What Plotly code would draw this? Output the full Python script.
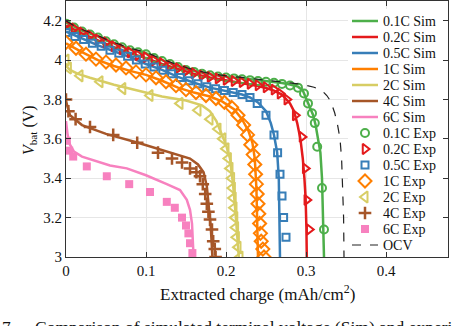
import plotly.graph_objects as go

# ---------------- data ----------------
q_ocv = [0, .01, .02, .03, .04, .05, .06, .08, .10, .12, .14, .16, .18, .20, .22, .24, .26, .28, .29, .30, .31, .32, .326, .331, .336, .3395, .3425, .3445, .346, .347, .3475]
v_ocv = [4.20, 4.175, 4.155, 4.14, 4.125, 4.105, 4.09, 4.06, 4.04, 4.005, 3.975, 3.95, 3.932, 3.92, 3.912, 3.903, 3.895, 3.885, 3.879, 3.872, 3.862, 3.845, 3.82, 3.79, 3.73, 3.67, 3.60, 3.50, 3.35, 3.2, 3.0]

q01_sim = [0, .01, .02, .03, .04, .05, .06, .07, .08, .09, .10, .11, .12, .13, .14, .15, .16, .17, .18, .19, .20, .21, .22, .23, .24, .25, .26, .27, .28, .29, .296, .301, .306, .309, .312, .315, .318, .32, .3215, .3225]
v01_sim = [4.19, 4.17, 4.15, 4.135, 4.12, 4.10, 4.085, 4.07, 4.055, 4.045, 4.035, 4.015, 4.0, 3.985, 3.97, 3.955, 3.945, 3.935, 3.928, 3.922, 3.916, 3.912, 3.908, 3.903, 3.899, 3.895, 3.89, 3.884, 3.876, 3.865, 3.845, 3.80, 3.75, 3.72, 3.67, 3.60, 3.53, 3.40, 3.20, 3.0]

q02_sim = [0, .02, .04, .06, .08, .10, .12, .14, .16, .18, .20, .22, .24, .25, .26, .27, .28, .285, .289, .293, .296, .298, .2995, .3005, .301]
v02_sim = [4.175, 4.135, 4.10, 4.065, 4.035, 4.01, 3.98, 3.955, 3.93, 3.912, 3.898, 3.885, 3.868, 3.858, 3.845, 3.825, 3.78, 3.74, 3.68, 3.60, 3.50, 3.40, 3.30, 3.15, 3.0]

q05_sim = [0, .02, .04, .06, .08, .10, .12, .14, .16, .18, .20, .22, .23, .24, .25, .256, .26, .264, .266, .267, .2675]
v05_sim = [4.145, 4.11, 4.075, 4.045, 4.015, 3.98, 3.95, 3.915, 3.885, 3.86, 3.842, 3.825, 3.81, 3.785, 3.74, 3.68, 3.62, 3.53, 3.40, 3.20, 3.0]

q1_sim = [0, .02, .04, .06, .08, .10, .12, .14, .16, .18, .195, .21, .22, .228, .233, .236, .238, .239, .24]
v1_sim = [4.085, 4.04, 4.0, 3.97, 3.945, 3.925, 3.895, 3.86, 3.835, 3.815, 3.79, 3.75, 3.70, 3.64, 3.58, 3.50, 3.35, 3.20, 3.0]

q2_sim = [0, .005, .015, .03, .06, .09, .12, .15, .17, .18, .188, .195, .20, .205, .209, .212, .214, .216]
v2_sim = [3.97, 3.95, 3.93, 3.91, 3.875, 3.845, 3.815, 3.795, 3.77, 3.74, 3.69, 3.62, 3.57, 3.50, 3.36, 3.22, 3.12, 3.0]

q4_sim = [0, .005, .02, .05, .09, .13, .155, .165, .172, .176, .179, .181, .183]
v4_sim = [3.79, 3.72, 3.67, 3.625, 3.58, 3.53, 3.50, 3.47, 3.43, 3.36, 3.25, 3.15, 3.0]

q6_sim = [0, .002, .005, .01, .02, .035, .055, .076, .10, .126, .1425, .151, .155, .1575, .159, .1595]
v6_sim = [3.69, 3.62, 3.57, 3.535, 3.51, 3.49, 3.465, 3.45, 3.415, 3.37, 3.34, 3.29, 3.24, 3.17, 3.08, 3.0]

q01_exp = [0, .01, .02, .03, .04, .05, .06, .07, .08, .09, .10, .11, .12, .13, .14, .15, .16, .17, .18, .19, .20, .21, .22, .23, .24, .25, .26, .27, .28, .29, .2975, .3025, .3075, .311, .314, .32, .3225]
v01_exp = [4.185, 4.165, 4.145, 4.13, 4.115, 4.095, 4.08, 4.065, 4.05, 4.04, 4.03, 4.01, 3.995, 3.98, 3.965, 3.95, 3.94, 3.93, 3.923, 3.917, 3.911, 3.907, 3.903, 3.898, 3.894, 3.89, 3.885, 3.879, 3.871, 3.86, 3.83, 3.78, 3.73, 3.68, 3.56, 3.35, 3.14]

q02_exp = [0, .01, .02, .03, .04, .05, .06, .07, .08, .09, .10, .11, .12, .13, .14, .15, .16, .17, .18, .19, .20, .21, .22, .23, .24, .25, .26, .2675, .276, .2865, .295, .299, .301, .304]
v02_exp = [4.18, 4.16, 4.14, 4.125, 4.105, 4.09, 4.07, 4.055, 4.04, 4.025, 4.015, 3.998, 3.985, 3.97, 3.958, 3.945, 3.933, 3.922, 3.914, 3.907, 3.90, 3.894, 3.888, 3.88, 3.872, 3.862, 3.85, 3.83, 3.80, 3.72, 3.61, 3.45, 3.29, 3.14]

q05_exp = [0, .011, .022, .033, .044, .055, .066, .077, .088, .099, .11, .121, .132, .143, .154, .165, .176, .187, .198, .209, .22, .23, .239, .25, .26, .2645, .2675, .27, .272, .275]
v05_exp = [4.14, 4.12, 4.105, 4.085, 4.07, 4.05, 4.035, 4.02, 4.0, 3.98, 3.965, 3.948, 3.93, 3.912, 3.895, 3.88, 3.865, 3.855, 3.845, 3.835, 3.825, 3.81, 3.78, 3.72, 3.62, 3.53, 3.42, 3.31, 3.20, 3.10]

q1_exp = [0, .0125, .025, .0375, .05, .0625, .075, .0875, .10, .1125, .125, .1375, .15, .1625, .175, .1875, .198, .207, .215, .222, .227, .231, .234, .236, .237, .238, .239, .240, .241, .242, .243, .244, .246, .2475]
v1_exp = [4.09, 4.06, 4.03, 4.005, 3.99, 3.975, 3.96, 3.94, 3.925, 3.91, 3.89, 3.87, 3.85, 3.835, 3.82, 3.805, 3.785, 3.76, 3.72, 3.67, 3.62, 3.57, 3.52, 3.47, 3.42, 3.37, 3.32, 3.27, 3.22, 3.17, 3.12, 3.08, 3.04, 3.0]

q2_exp = [0, .003, .0175, .0425, .071, .105, .1425, .165, .18, .19, .196, .20, .203, .205, .207, .208, .209, .21, .211, .212, .213, .215, .2175]
v2_exp = [4.0, 3.96, 3.92, 3.89, 3.855, 3.82, 3.78, 3.745, 3.70, 3.65, 3.60, 3.55, 3.50, 3.45, 3.40, 3.35, 3.30, 3.25, 3.20, 3.15, 3.10, 3.05, 3.0]

q4_exp = [0, .003, .012, .03, .059, .089, .115, .1325, .145, .155, .163, .1675, .171, .174, .176, .178, .18, .1825, .184, .186, .187]
v4_exp = [3.80, 3.74, 3.70, 3.66, 3.62, 3.58, 3.53, 3.50, 3.48, 3.45, 3.43, 3.41, 3.37, 3.32, 3.27, 3.23, 3.19, 3.14, 3.08, 3.04, 3.0]

q6_exp = [0.001, .004, .009, .026, .051, .079, .105, .126, .136, .145, .15, .153, .155, .158]
v6_exp = [3.59, 3.54, 3.51, 3.46, 3.41, 3.37, 3.33, 3.28, 3.25, 3.20, 3.16, 3.12, 3.07, 3.02]

x_ticks = [0, 0.1, 0.2, 0.3, 0.4]
y_ticks = [3, 3.2, 3.4, 3.6, 3.8, 4, 4.2]

# ---------------- styles ----------------
C_GREEN, C_RED, C_BLUE = "#4daf4a", "#e41a1c", "#377eb8"
C_ORANGE, C_YELLOW, C_BROWN, C_PINK = "#ff7f00", "#d7cd64", "#a65628", "#f781bf"
FONT = "Liberation Serif"
W, H = 474, 326
L, R, T, B = 66, 26, 1, 69
PW, PH = W - L - R, H - T - B

sims = [
    ("0.1C Sim", q01_sim, v01_sim, C_GREEN),
    ("0.2C Sim", q02_sim, v02_sim, C_RED),
    ("0.5C Sim", q05_sim, v05_sim, C_BLUE),
    ("1C Sim", q1_sim, v1_sim, C_ORANGE),
    ("2C Sim", q2_sim, v2_sim, C_YELLOW),
    ("4C Sim", q4_sim, v4_sim, C_BROWN),
    ("6C Sim", q6_sim, v6_sim, C_PINK),
]
exps = [
    ("0.1C Exp", q01_exp, v01_exp, C_GREEN, "circle-open", 8, 2),
    ("0.2C Exp", q02_exp, v02_exp, C_RED, "triangle-right-open", 9, 2),
    ("0.5C Exp", q05_exp, v05_exp, C_BLUE, "square-open", 7, 2),
    ("1C Exp", q1_exp, v1_exp, C_ORANGE, "diamond-open", 10, 2),
    ("2C Exp", q2_exp, v2_exp, C_YELLOW, "triangle-left-open", 10, 2),
    ("4C Exp", q4_exp, v4_exp, C_BROWN, "cross-thin-open", 9, 2.5),
    ("6C Exp", q6_exp, v6_exp, C_PINK, "square", 8, 0),
]

fig = go.Figure()
for name, q, v, c in sims:
    fig.add_trace(go.Scatter(x=q, y=v, mode="lines", name=name,
                             line=dict(color=c, width=2.5), showlegend=False))
for name, q, v, c, sym, sz, lw in exps:
    fig.add_trace(go.Scatter(x=q, y=v, mode="markers", name=name, showlegend=False,
                             marker=dict(symbol=sym, size=sz, color=c,
                                         line=dict(color=c, width=lw))))
fig.add_trace(go.Scatter(x=q_ocv, y=v_ocv, mode="lines", name="OCV", showlegend=False,
                         line=dict(color="#222222", width=1.2, dash="dash")))

# ---------------- manual legend (page-pixel overlay axes) ----------------
row0, dy = 21, 16
lx0, lx1, tx = 352, 378, 381
bx0, by0, by1 = 348, 9, 252
# white legend box (hides the gridlines behind the legend)
fig.add_trace(go.Scatter(x=[bx0, W - R - 1, W - R - 1, bx0, bx0], y=[by0, by0, by1, by1, by0],
                         mode="lines", fill="toself", fillcolor="white", line=dict(width=0),
                         xaxis="x2", yaxis="y2", showlegend=False, hoverinfo="skip"))
ann = []
rows = [(n, "line", c, None, None, None) for n, _, _, c in sims] + \
       [(n, "marker", c, s, z, w) for n, _, _, c, s, z, w in exps] + \
       [("OCV", "dash", "#222222", None, None, None)]
for i, (n, kind, c, sym, sz, lw) in enumerate(rows):
    yy = row0 + dy * i
    if kind == "line":
        fig.add_trace(go.Scatter(x=[lx0, lx1], y=[yy, yy], mode="lines", xaxis="x2", yaxis="y2",
                                 line=dict(color=c, width=2.5), showlegend=False, hoverinfo="skip"))
    elif kind == "dash":
        fig.add_trace(go.Scatter(x=[lx0, lx1], y=[yy, yy], mode="lines", xaxis="x2", yaxis="y2",
                                 line=dict(color=c, width=1.2, dash="dash"), showlegend=False, hoverinfo="skip"))
    else:
        fig.add_trace(go.Scatter(x=[(lx0 + lx1) / 2], y=[yy], mode="markers", xaxis="x2", yaxis="y2",
                                 marker=dict(symbol=sym, size=sz, color=c, line=dict(color=c, width=lw)),
                                 showlegend=False, hoverinfo="skip"))
    ann.append(dict(x=tx, y=yy, xref="x2", yref="y2", text=n, showarrow=False,
                    xanchor="left", yanchor="middle", font=dict(family=FONT, size=14, color="#111")))


def pp(px, py):
    return (px - L) / PW, (H - B - py) / PH


# titles and caption
xt = pp(257, 293)
ann.append(dict(x=xt[0], y=xt[1], xref="paper", yref="paper", showarrow=False,
                text="Extracted charge (mAh/cm<sup>2</sup>)", xanchor="center", yanchor="middle",
                font=dict(family=FONT, size=17, color="#111")))
yt = pp(29, 130)
ann.append(dict(x=yt[0], y=yt[1], xref="paper", yref="paper", showarrow=False, textangle=-90,
                text="<i>V</i><sub>bat</sub> (V)", xanchor="center", yanchor="middle",
                font=dict(family=FONT, size=16, color="#111")))
c1 = pp(0, 315)
ann.append(dict(x=c1[0], y=c1[1], xref="paper", yref="paper", showarrow=False, text="7.",
                xanchor="left", yanchor="top", font=dict(family=FONT, size=17.5, color="#111")))
c2 = pp(33, 315)
ann.append(dict(x=c2[0], y=c2[1], xref="paper", yref="paper", showarrow=False,
                text="Comparison of simulated terminal voltage (Sim) and experi",
                xanchor="left", yanchor="top", font=dict(family=FONT, size=17.5, color="#111")))

axis_common = dict(showline=True, linecolor="#333", linewidth=1.2, mirror="ticks", ticks="inside",
                   ticklen=5, tickcolor="#333", showgrid=True, gridcolor="#e6e6e6", gridwidth=1,
                   zeroline=False, tickfont=dict(family=FONT, size=15, color="#111"))

fig.update_layout(
    width=W, height=H, margin=dict(l=L, r=R, t=T, b=B),
    paper_bgcolor="white", plot_bgcolor="white", showlegend=False,
    xaxis=dict(range=[0, 0.4775], tickvals=x_ticks, ticktext=[f"{t:g}" for t in x_ticks], **axis_common),
    yaxis=dict(range=[3, 4.3], tickvals=y_ticks, ticktext=[f"{t:g}" for t in y_ticks], **axis_common),
    xaxis2=dict(overlaying="x", range=[L, W - R], visible=False),
    yaxis2=dict(overlaying="y", range=[H - B, T], visible=False),
    annotations=ann,
)

fig.write_html("out.html")
